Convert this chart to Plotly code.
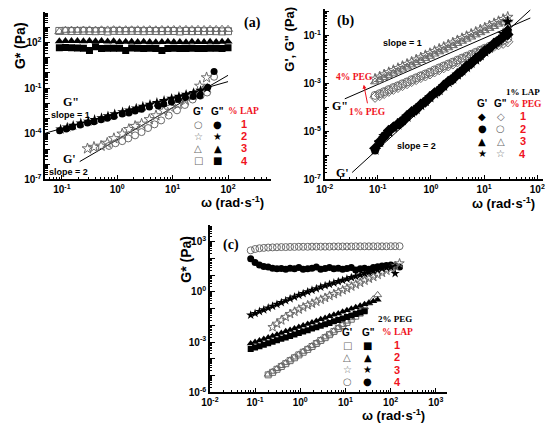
import plotly.graph_objects as go

# ---------------- Panel (a) data ----------------
a_w_top = [0.09, 0.116, 0.149, 0.191, 0.245, 0.315, 0.405, 0.52, 0.67, 0.86, 1.1, 1.42, 1.82, 2.34, 3.0,
           3.86, 4.96, 6.4, 8.2, 10.5, 13.5, 17.4, 22.3, 28.7, 36.9, 47.4, 61, 78, 100]
a_Gp_3 = [520, 640, 660, 650, 670, 680, 660, 690, 680, 700, 680, 700, 690, 700, 690, 710, 690, 720, 700, 720,
          710, 730, 720, 740, 720, 740, 730, 750, 740]
a_Gp_4 = [580, 590, 570, 580, 590, 570, 560, 580, 540, 590, 580, 570, 590, 580, 560, 580, 570, 560, 580, 570,
          540, 580, 560, 570, 550, 570, 560, 540, 560]
a_Gpp_3 = [120, 125, 128, 126, 124, 128, 122, 125, 118, 122, 108, 112, 115, 110, 112, 108, 106, 110, 112, 108,
           110, 106, 112, 108, 110, 114, 108, 112, 116]
a_Gpp_4 = [46, 48, 46, 44, 43, 30, 52, 40, 43, 43, 43, 30, 44, 43, 40, 43, 40, 30, 40, 43, 40, 40, 43, 40, 40,
           43, 43, 40, 46]

a_w_Gp1 = [0.71, 0.93, 1.23, 1.58, 2.1, 2.75, 3.6, 4.7, 6.2, 8.5, 12, 16.6, 23, 32, 42, 56]
a_Gp_1 = [1.6e-5, 2.4e-5, 3.3e-5, 5.0e-5, 7.9e-5, 1.3e-4, 2.4e-4, 4.2e-4, 7.6e-4, 1.6e-3, 3.5e-3, 7.9e-3,
          1.8e-2, 3.2e-2, 5.2e-2, 0.56]
a_w_Gpp1 = [0.091, 0.12, 0.155, 0.214, 0.29, 0.38, 0.51, 0.66, 0.87, 1.23, 1.62, 2.1, 2.75, 3.8, 5.5, 6.9,
            9.5, 12.6, 17, 23.4, 31, 43, 56]
a_Gpp_1 = [1.6e-4, 2.1e-4, 2.8e-4, 3.8e-4, 5.1e-4, 6.3e-4, 8.5e-4, 1.05e-3, 1.4e-3, 2.0e-3, 2.3e-3, 3.2e-3,
           4.2e-3, 5.9e-3, 6.8e-3, 9.1e-3, 1.23e-2, 1.8e-2, 2.4e-2, 2.8e-2, 3.2e-2, 0.115, 1.25]
a_w_Gpp2 = [0.095, 0.125, 0.16, 0.22, 0.3, 0.39, 0.52, 0.68, 0.9, 1.25, 1.65, 2.2, 2.9, 3.9, 5.2, 7.0, 9.6,
            13, 17.5, 24, 32, 42]
a_Gpp_2 = [2.0e-4, 2.7e-4, 3.5e-4, 5.0e-4, 6.6e-4, 8.5e-4, 1.12e-3, 1.48e-3, 2.0e-3, 2.7e-3, 3.5e-3, 4.8e-3,
           6.3e-3, 8.5e-3, 1.12e-2, 1.5e-2, 2.1e-2, 2.8e-2, 3.8e-2, 5.0e-2, 7.0e-2, 0.1]
a_w_Gp2 = [0.29, 0.38, 0.51, 0.66, 0.87, 1.23, 1.62, 2.1, 2.75, 3.8, 5.0, 6.9, 9.1, 12.6, 17, 23.4, 31, 41]
a_Gp_2 = [1.07e-5, 1.35e-5, 1.6e-5, 2.5e-5, 5.0e-5, 1.0e-4, 2.0e-4, 3.2e-4, 4.5e-4, 8.9e-4, 1.6e-3, 3.2e-3,
          5.6e-3, 8.9e-3, 1.6e-2, 3.5e-2, 0.14, 0.5]

a_fit_Gpp_w = [0.05, 100]
a_fit_Gpp = [1.1e-4, 0.27]
a_fit_Gp_w = [0.21, 100]
a_fit_Gp = [1.5e-6, 0.7]

# ---------------- Panel (b) data ----------------
b_w = [0.089, 0.109, 0.132, 0.161, 0.197, 0.240, 0.292, 0.356, 0.434, 0.529, 0.645, 0.787, 0.959, 1.17, 1.43,
       1.74, 2.12, 2.58, 3.15, 3.84, 4.68, 5.71, 6.96, 8.48, 10.3, 12.6, 15.4, 18.7, 22.8, 27.8]
b_Gp_1 = [2.0e-6, 3.8e-6, 6.0e-6, 1.1e-5, 1.5e-5, 2.1e-5, 2.6e-5, 4.5e-5, 6.6e-5, 8.0e-5, 1.35e-4, 1.7e-4,
          2.8e-4, 4.0e-4, 5.0e-4, 8.3e-4, 1.2e-3, 1.5e-3, 2.5e-3, 3.2e-3, 5.2e-3, 6.8e-3, 1.1e-2, 1.4e-2,
          2.3e-2, 2.9e-2, 4.7e-2, 6.0e-2, 0.085, 0.11]
b_Gp_2 = [1.6e-6, 3.2e-6, 6.8e-6, 9.2e-6, 1.5e-5, 1.8e-5, 3.0e-5, 3.9e-5, 6.2e-5, 9.3e-5, 1.2e-4, 1.9e-4,
          2.5e-4, 3.9e-4, 5.7e-4, 7.4e-4, 1.18e-3, 1.7e-3, 2.2e-3, 3.6e-3, 4.7e-3, 7.5e-3, 9.8e-3, 1.55e-2,
          2.0e-2, 3.2e-2, 4.2e-2, 6.6e-2, 0.095, 0.16]
b_Gp_3 = [1.9e-6, 3.4e-6, 5.9e-6, 1.05e-5, 1.3e-5, 2.0e-5, 2.7e-5, 4.4e-5, 5.7e-5, 9.0e-5, 1.3e-4, 1.75e-4,
          2.7e-4, 3.6e-4, 5.6e-4, 8.0e-4, 1.08e-3, 1.65e-3, 2.4e-3, 3.3e-3, 5.0e-3, 7.3e-3, 1.05e-2, 1.45e-2,
          2.2e-2, 3.1e-2, 4.5e-2, 6.5e-2, 0.1, 0.2]
b_Gp_4 = [1.7e-6, 3.6e-6, 6.5e-6, 9.6e-6, 1.45e-5, 1.95e-5, 2.9e-5, 4.1e-5, 6.1e-5, 8.5e-5, 1.25e-4, 1.85e-4,
          2.65e-4, 3.8e-4, 5.3e-4, 7.9e-4, 1.15e-3, 1.6e-3, 2.35e-3, 3.45e-3, 4.8e-3, 7.2e-3, 1.0e-2, 1.5e-2,
          2.15e-2, 3.05e-2, 4.3e-2, 6.4e-2, 0.12, 0.38]
b_Gpp_1 = [2.7e-4, 3.2e-4, 3.9e-4, 4.8e-4, 5.8e-4, 6.9e-4, 8.3e-4, 1.0e-3, 1.23e-3, 1.48e-3, 1.8e-3, 2.1e-3,
           2.55e-3, 3.1e-3, 3.8e-3, 4.6e-3, 5.5e-3, 6.6e-3, 8.1e-3, 9.8e-3, 1.17e-2, 1.4e-2, 1.7e-2, 2.1e-2,
           2.5e-2, 3.0e-2, 3.6e-2, 4.2e-2, 4.8e-2, 5.5e-2]
b_Gpp_2 = [3.2e-4, 3.8e-4, 4.6e-4, 5.6e-4, 6.8e-4, 8.1e-4, 9.8e-4, 1.17e-3, 1.45e-3, 1.74e-3, 2.1e-3, 2.5e-3,
           3.0e-3, 3.7e-3, 4.5e-3, 5.4e-3, 6.5e-3, 7.8e-3, 9.5e-3, 1.15e-2, 1.38e-2, 1.66e-2, 2.0e-2, 2.45e-2,
           2.95e-2, 3.55e-2, 4.3e-2, 5.1e-2, 6.3e-2, 7.6e-2]
b_Gpp_3 = [1.18e-3, 1.45e-3, 1.8e-3, 2.2e-3, 2.7e-3, 3.3e-3, 4.0e-3, 4.9e-3, 6.0e-3, 7.4e-3, 9.1e-3, 1.12e-2,
           1.37e-2, 1.7e-2, 2.1e-2, 2.5e-2, 3.1e-2, 3.8e-2, 4.7e-2, 5.8e-2, 7.1e-2, 8.7e-2, 0.107, 0.132, 0.16,
           0.2, 0.24, 0.3, 0.36, 0.45]
b_Gpp_4 = [1.55e-3, 1.9e-3, 2.35e-3, 2.9e-3, 3.55e-3, 4.3e-3, 5.25e-3, 6.45e-3, 7.9e-3, 9.8e-3, 1.2e-2, 1.48e-2,
           1.8e-2, 2.24e-2, 2.75e-2, 3.3e-2, 4.1e-2, 5.0e-2, 6.2e-2, 7.6e-2, 9.3e-2, 0.115, 0.14, 0.174, 0.21,
           0.26, 0.32, 0.39, 0.48, 0.59]
b_fit_Gpp_w = [0.024, 74]
b_fit_Gpp = [2.3e-4, 0.54]
b_fit_Gp_w = [0.033, 74]
b_fit_Gp = [1.95e-7, 1.17]

# ---------------- Panel (c) data ----------------
c_w = [0.080, 0.100, 0.125, 0.156, 0.195, 0.244, 0.305, 0.381, 0.477, 0.596, 0.745, 0.93, 1.16, 1.46, 1.82,
       2.27, 2.84, 3.55, 4.44, 5.55, 6.94, 8.67, 10.8, 13.5, 16.9, 21.2, 26.5, 33.1, 41.4, 51.7, 64.6, 80.8,
       101, 126, 158]
c_Gp_4 = [300, 360, 400, 420, 440, 450, 460, 470, 470, 480, 480, 490, 490, 490, 500, 500, 500, 500, 500, 510,
          510, 510, 510, 510, 520, 520, 520, 520, 520, 520, 520, 520, 530, 530, 530]
c_Gpp_4 = [95, 56, 40, 33, 30, 26, 24, 25, 22, 26, 24, 28, 22, 24, 26, 30, 22, 25, 28, 24, 26, 22, 25, 28, 20,
           24, 26, 22, 28, 32, 35, 38, 40, 35, 30]
c_Gpp_3 = [0.041, 0.052, 0.068, 0.085, 0.11, 0.14, 0.18, 0.23, 0.30, 0.39, 0.50, 0.63, 0.79, 1.0, 1.26, 1.55,
           1.95, 2.35, 2.8, 3.4, 4.1, 4.9, 5.9, 7.1, 8.5, 10.2, 12.3, 14.8, 17.8, 21, 25, 28, 30, 12.6]
c_Gp_3 = [0.0079, 0.0126, 0.02, 0.032, 0.048, 0.066, 0.089, 0.12, 0.16, 0.2, 0.26, 0.34, 0.44, 0.58, 0.74,
          0.95, 1.26, 1.6, 2.1, 2.75, 3.5, 4.7, 6.2, 7.9, 10.5, 13.8, 18.6, 25, 35, 50]
c_Gpp_2 = [8.3e-4, 1.02e-3, 1.26e-3, 1.55e-3, 1.9e-3, 2.35e-3, 2.9e-3, 3.55e-3, 4.4e-3, 5.4e-3, 6.6e-3, 8.1e-3,
           0.01, 0.0123, 0.015, 0.0186, 0.023, 0.028, 0.035, 0.043, 0.052, 0.065, 0.079, 0.098, 0.12, 0.148,
           0.18, 0.22, 0.275, 0.34]
c_Gpp_1 = [3.9e-4, 4.8e-4, 5.8e-4, 7.1e-4, 8.7e-4, 1.05e-3, 1.3e-3, 1.6e-3, 1.9e-3, 2.35e-3, 2.9e-3, 3.5e-3,
           4.3e-3, 5.2e-3, 6.5e-3, 7.8e-3, 9.5e-3, 0.0117, 0.014, 0.0174, 0.021, 0.026, 0.032, 0.039, 0.048,
           0.058, 0.07]
c_Gp_2 = [1.2e-5, 1.78e-5, 2.6e-5, 3.9e-5, 5.8e-5, 8.5e-5, 1.26e-4, 1.86e-4, 2.75e-4, 4.1e-4, 6.0e-4, 8.9e-4,
          1.35e-3, 2.0e-3, 3.0e-3, 4.6e-3, 7.1e-3, 0.011, 0.0174, 0.028, 0.046, 0.076, 0.126, 0.214, 0.37, 0.66]
c_Gp_1 = [1.12e-5, 1.58e-5, 2.4e-5, 3.55e-5, 5.2e-5, 7.9e-5, 1.17e-4, 1.74e-4, 2.5e-4, 3.7e-4, 5.5e-4, 8.3e-4,
          1.26e-3, 1.86e-3, 2.8e-3, 4.3e-3, 6.5e-3, 0.01, 0.015, 0.0234, 0.0355, 0.054, 0.079]

# ---------------- figure ----------------
W, H = 550, 430
GRAY = "#6a6a6a"
RED = "#f0141e"
fig = go.Figure()


def pts(x, y, sym, xa, ya, size=7, open_=False):
    fig.add_trace(go.Scatter(
        x=x, y=y, mode="markers", xaxis=xa, yaxis=ya, showlegend=False, hoverinfo="skip",
        marker=dict(symbol=sym + ("-open" if open_ else ""), size=size,
                    color=GRAY if open_ else "black",
                    line=dict(width=1 if open_ else 0, color=GRAY if open_ else "black"))))


def line(x, y, xa, ya):
    fig.add_trace(go.Scatter(x=x, y=y, mode="lines", xaxis=xa, yaxis=ya, showlegend=False,
                             hoverinfo="skip", line=dict(color="black", width=1)))


# panel (a)
line(a_fit_Gpp_w, a_fit_Gpp, "x", "y")
line(a_fit_Gp_w, a_fit_Gp, "x", "y")
pts(a_w_top, a_Gp_3, "triangle-up", "x", "y", 8, True)
pts(a_w_top, a_Gp_4, "square", "x", "y", 7, True)
pts(a_w_top, a_Gpp_3, "triangle-up", "x", "y", 8)
pts(a_w_top, a_Gpp_4, "square", "x", "y", 7)
pts(a_w_Gp1, a_Gp_1, "circle", "x", "y", 7, True)
pts(a_w_Gp2, a_Gp_2, "star", "x", "y", 8, True)
pts(a_w_Gpp1, a_Gpp_1, "circle", "x", "y", 7)
pts(a_w_Gpp2, a_Gpp_2, "star", "x", "y", 8)

# panel (b)
line(b_fit_Gpp_w, b_fit_Gpp, "x2", "y2")
line(b_fit_Gp_w, b_fit_Gp, "x2", "y2")
pts(b_w, b_Gpp_1, "diamond", "x2", "y2", 8, True)
pts(b_w, b_Gpp_2, "circle", "x2", "y2", 8, True)
pts(b_w, b_Gpp_3, "triangle-up", "x2", "y2", 8, True)
pts(b_w, b_Gpp_4, "star", "x2", "y2", 8, True)
pts(b_w, b_Gp_1, "diamond", "x2", "y2", 9)
pts(b_w, b_Gp_2, "circle", "x2", "y2", 8)
pts(b_w, b_Gp_3, "triangle-up", "x2", "y2", 8)
pts(b_w, b_Gp_4, "star", "x2", "y2", 9)

# panel (c)
pts(c_w, c_Gp_4, "circle", "x3", "y3", 7, True)
pts(c_w, c_Gpp_4, "circle", "x3", "y3", 7)
pts(c_w[5:], c_Gp_3, "star", "x3", "y3", 7, True)
pts(c_w[:34], c_Gpp_3, "star", "x3", "y3", 7)
pts(c_w[4:30], c_Gp_2, "triangle-up", "x3", "y3", 7, True)
pts(c_w[4:27], c_Gp_1, "square", "x3", "y3", 6, True)
pts(c_w[:30], c_Gpp_2, "triangle-up", "x3", "y3", 7)
pts(c_w[:27], c_Gpp_1, "square", "x3", "y3", 6)


def sup(e):
    return "<b>10<sup>%d</sup></b>" % e


def minors(lo, hi):
    return [m * 10.0 ** e for e in range(lo, hi) for m in range(2, 10)]


def axis(domain, rng, anchor, major_exps, label_exps, minor_lo, minor_hi):
    return dict(type="log", domain=domain, range=rng, anchor=anchor,
                showline=True, linecolor="black", linewidth=1.5, mirror=False,
                showgrid=False, zeroline=False,
                ticks="inside", ticklen=5, tickwidth=1.2, tickcolor="black",
                tickmode="array", tickvals=[10.0 ** e for e in major_exps],
                ticktext=[sup(e) if e in label_exps else "" for e in major_exps],
                tickfont=dict(family="Liberation Sans", size=10, color="black"),
                minor=dict(tickmode="array", tickvals=minors(minor_lo, minor_hi), ticks="inside",
                           ticklen=2.5, tickwidth=1, tickcolor="black", showgrid=False))


def px(x0, x1):
    return [x0 / W, x1 / W]


def py(top, bottom):
    return [1 - bottom / H, 1 - top / H]


fig.update_layout(
    width=W, height=H, autosize=False, margin=dict(l=0, r=0, t=0, b=0),
    paper_bgcolor="white", plot_bgcolor="white",
    xaxis=axis(px(37, 267), [-1.3, 2.77], "y", [-1, 0, 1, 2], [-1, 0, 1, 2], -2, 3),
    yaxis=axis(py(12.3, 182), [-7, 4], "x", list(range(-7, 5)), [-7, -4, -1, 2], -7, 4),
    xaxis2=axis(px(322, 544.5), [-2, 2.1], "y2", [-2, -1, 0, 1, 2], [-2, -1, 0, 1, 2], -2, 3),
    yaxis2=axis(py(9.3, 182), [-7, 0.1], "x2", list(range(-7, 1)), [-7, -5, -3, -1], -7, 1),
    xaxis3=axis(px(205, 447), [-2, 3.25], "y3", [-2, -1, 0, 1, 2, 3], [-2, -1, 0, 1, 2, 3], -2, 4),
    yaxis3=axis(py(228, 398), [-6, 4], "x3", list(range(-6, 5)), [-6, -3, 0, 3], -6, 4),
)

anns = []


def ann(x, y, text, size=12, color="black", family="Liberation Sans", angle=0, xanchor="center"):
    anns.append(dict(xref="paper", yref="paper", x=x / W, y=1 - y / H, text=text, showarrow=False,
                     xanchor=xanchor, yanchor="middle", textangle=angle,
                     font=dict(family=family, size=size, color=color)))


SERIF = "Liberation Serif"
SYM = "DejaVu Sans"

# axis titles
ann(12, 46, "<b>G* (Pa)</b>", 14, angle=-90)
ann(228, 205, "<b>ω (rad·s<sup>-1</sup>)</b>", 13)
ann(286, 40, "<b>G', G\" (Pa)</b>", 13, angle=-90)
ann(505, 206, "<b>ω (rad·s<sup>-1</sup>)</b>", 13)
ann(181, 263, "<b>G* (Pa)</b>", 14, angle=-90)
ann(392, 421, "<b>ω (rad·s<sup>-1</sup>)</b>", 13)

# panel labels
ann(248, 23, "<b>(a)</b>", 14, family=SERIF)
ann(343, 21, "<b>(b)</b>", 14, family=SERIF)
ann(227, 248, "<b>(c)</b>", 14, family=SERIF)

# panel (a) annotations
ann(63, 103, "<b>G\"</b>", 12, family=SERIF)
ann(63, 117, "<b>slope = 1</b>", 9)
ann(62, 161, "<b>G'</b>", 12, family=SERIF)
ann(61, 174, "<b>slope = 2</b>", 9)

# panel (a) legend table
ann(193, 113, "<b>G'</b>", 10)
ann(213, 113, "<b>G\"</b>", 10)
ann(239, 113, "<b>% LAP</b>", 9.5, RED, SERIF)
a_rows = [("○", "●", "1"), ("☆", "★", "2"), ("△", "▲", "3"), ("□", "■", "4")]
for i, (o, f, n) in enumerate(a_rows):
    yy = 126 + i * 12.3
    ann(193, yy, o, 10, GRAY, SYM)
    ann(213, yy, f, 10, "black", SYM)
    ann(240, yy, "<b>%s</b>" % n, 11, RED)

# panel (b) annotations
ann(402, 44, "<b>slope = 1</b>", 9)
ann(353, 78, "<b>4% PEG</b>", 9.5, RED, SERIF)
ann(366, 114, "<b>1% PEG</b>", 9.5, RED, SERIF)
ann(338, 107, "<b>G\"</b>", 12, family=SERIF)
ann(416, 148, "<b>slope = 2</b>", 9)
ann(340, 175, "<b>G'</b>", 12, family=SERIF)
anns.append(dict(xref="paper", yref="paper", x=362 / W, y=1 - 86 / H, ax=4, ay=20, text="",
                 showarrow=True, arrowhead=2, arrowsize=0.8, arrowwidth=1, arrowcolor=RED))

# panel (b) legend table
ann(524, 93, "<b>1% LAP</b>", 9, family=SERIF)
ann(483, 105, "<b>G'</b>", 10)
ann(502, 105, "<b>G\"</b>", 10)
ann(528, 105, "<b>% PEG</b>", 9.5, RED, SERIF)
b_rows = [("◆", "◇", "1"), ("●", "○", "2"), ("▲", "△", "3"), ("★", "☆", "4")]
for i, (f, o, n) in enumerate(b_rows):
    yy = 118 + i * 12.6
    ann(483, yy, f, 10, "black", SYM)
    ann(502, yy, o, 10, GRAY, SYM)
    ann(524, yy, "<b>%s</b>" % n, 11, RED)

# panel (c) legend table
ann(394, 324, "<b>2% PEG</b>", 9, family=SERIF)
ann(345, 337, "<b>G'</b>", 10)
ann(367, 337, "<b>G\"</b>", 10)
ann(396, 337, "<b>% LAP</b>", 9.5, RED, SERIF)
c_rows = [("□", "■", "1"), ("△", "▲", "2"), ("☆", "★", "3"), ("○", "●", "4")]
for i, (o, f, n) in enumerate(c_rows):
    yy = 350 + i * 12.4
    ann(345, yy, o, 10, GRAY, SYM)
    ann(366, yy, f, 10, "black", SYM)
    ann(396, yy, "<b>%s</b>" % n, 11, RED)

fig.update_layout(annotations=anns)
fig.write_html("out.html", config={"displayModeBar": False},
               post_script="document.body.style.margin='0';document.body.style.overflow='hidden';")
